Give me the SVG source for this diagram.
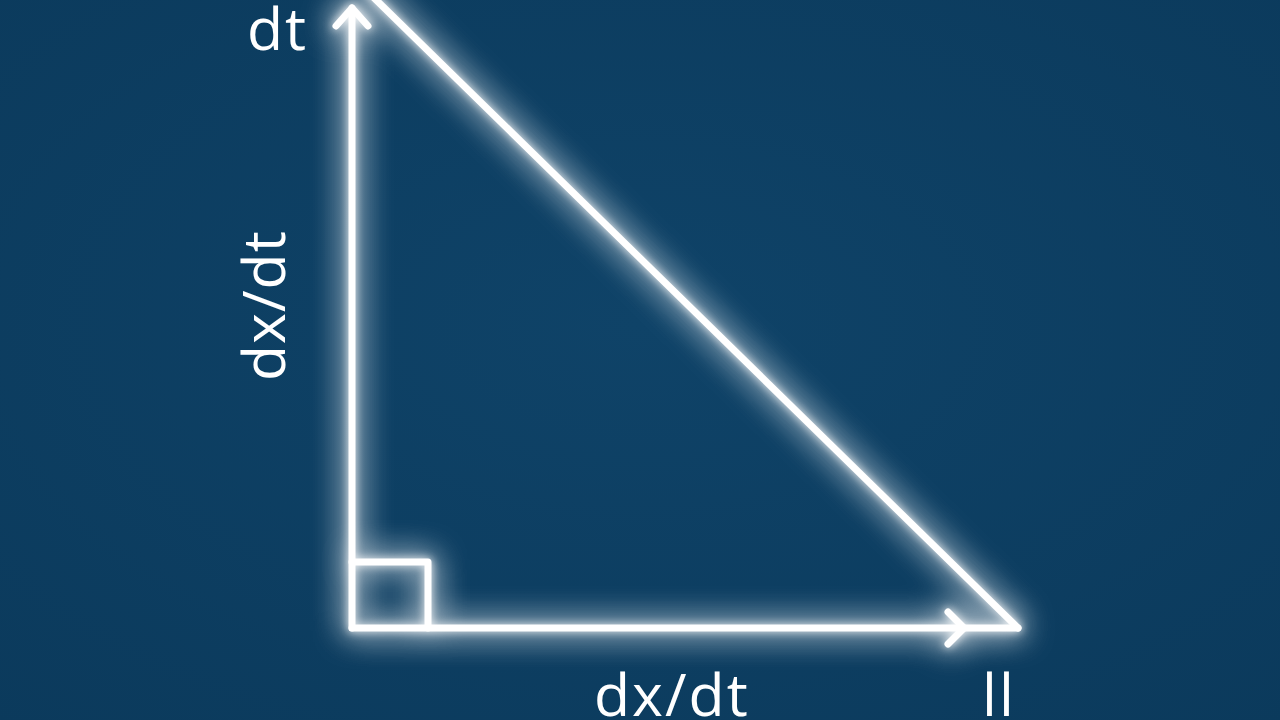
<svg xmlns="http://www.w3.org/2000/svg" width="1280" height="720" viewBox="0 0 1280 720">
<defs>
<radialGradient id="bg" cx="0.5" cy="0.45" r="0.75">
<stop offset="0" stop-color="#0f4368"/>
<stop offset="1" stop-color="#0b3a5c"/>
</radialGradient>
<filter id="glow" x="-20%" y="-20%" width="140%" height="140%">
<feGaussianBlur in="SourceGraphic" stdDeviation="16" result="b1"/>
<feGaussianBlur in="SourceGraphic" stdDeviation="5" result="b2"/>
<feMerge><feMergeNode in="b1"/><feMergeNode in="b1"/><feMergeNode in="b2"/><feMergeNode in="SourceGraphic"/></feMerge>
</filter>
<style>
.ln{fill:none;stroke:#ffffff;stroke-width:7;stroke-linecap:round;stroke-linejoin:round}
.lbl{font-family:"Open Sans","Liberation Sans",sans-serif;fill:#ffffff;font-size:59px}
</style>
</defs>
<rect width="1280" height="720" fill="url(#bg)"/>
<g id="connectors" filter="url(#glow)">
<path class="ln" d="M352,628 L352,8"/>
<path class="ln" d="M336,26 L352,8 L368,26"/>
<path class="ln" d="M352,628 L1018,628"/>
<path class="ln" d="M948,612 L964,628 L948,644"/>
<path class="ln" d="M368,-8 L1018,628"/>
<path class="ln" d="M352,562 L428,562 L428,628"/>
</g>
<g id="label-top"><text class="lbl" x="247" y="50" letter-spacing="2">dt</text></g>
<g id="label-left"><text class="lbl" transform="translate(285,381) rotate(-90)" letter-spacing="1">dx/dt</text></g>
<g id="label-bottom"><text class="lbl" x="594" y="716" letter-spacing="2">dx/dt</text></g>
<g id="label-corner"><text class="lbl" x="982" y="716" letter-spacing="2">ll</text></g>
</svg>
